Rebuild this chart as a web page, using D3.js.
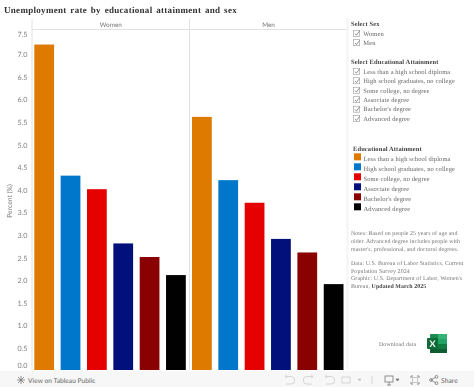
<!DOCTYPE html>
<html>
<head>
<meta charset="utf-8">
<script src="https://cdn.jsdelivr.net/npm/d3@7"></script>
<style>
  html, body { margin: 0; padding: 0; background: #fff; }
  svg { display: block; text-rendering: geometricPrecision; opacity: 0.999; }
  .serif { font-family: "Liberation Serif", serif; }
  .sans { font-family: Lato, "Open Sans", sans-serif; }
</style>
</head>
<body>
<div id="chart"></div>
<script>
const sexes = ["Women", "Men"];
const levels = [
    "Less than a high school diploma",
    "High school graduates, no college",
    "Some college, no degree",
    "Associate degree",
    "Bachelor's degree",
    "Advanced degree"
];
const colors = ["#df7a00", "#0077cc", "#e60000", "#00107a", "#8a0000", "#000000"];
const womenValues = [7.2, 4.3, 4.0, 2.8, 2.5, 2.1];
const menValues = [5.6, 4.2, 3.7, 2.9, 2.6, 1.9];
const yTicks = [0, 0.5, 1, 1.5, 2, 2.5, 3, 3.5, 4, 4.5, 5, 5.5, 6, 6.5, 7, 7.5];
const notes = [
    "Notes: Based on people 25 years of age and",
    "older. Advanced degree includes people with",
    "master's, professional, and doctoral degrees."
];
const sources = [
    "Data: U.S. Bureau of Labor Statistics, Current",
    "Population Survey 2024",
    "Graphic: U.S. Department of Labor, Women's"
];

const width = 474;
const height = 387;
const svg = d3.select("#chart").append("svg")
    .attr("width", width)
    .attr("height", height);

/* ---------------- TITLE ---------------- */

svg.append("text")
    .attr("class", "serif")
    .attr("x", 4)
    .attr("y", 13)
    .style("font-size", "9px")
    .style("font-weight", "bold")
    .style("letter-spacing", "0.3px")
    .style("word-spacing", "1.2px")
    .style("fill", "#333")
    .text("Unemployment rate by educational attainment and sex");

/* ---------------- SCALES ---------------- */

const y = d3.scaleLinear().domain([0, 7.65]).range([370, 24.2]);
const panel = d3.scaleBand().domain(sexes).range([32, 347.4]);
const x = d3.scaleBand().domain(levels).range([-0.8, panel.bandwidth() - 0.8])
    .paddingInner(0.25).paddingOuter(0.1175);

/* ---------------- FRAME AND AXIS ---------------- */

const lines = "#e2e2e2";
svg.append("line").attr("x1", 32).attr("x2", 32).attr("y1", 19).attr("y2", 370).attr("stroke", lines);
svg.append("line").attr("x1", 32).attr("x2", 347).attr("y1", 29.5).attr("y2", 29.5).attr("stroke", lines);
svg.append("line").attr("x1", 189.5).attr("x2", 189.5).attr("y1", 19).attr("y2", 370).attr("stroke", lines);

const yAxis = svg.append("g")
    .attr("transform", "translate(32,0)")
    .call(d3.axisLeft(y).tickValues(yTicks).tickSize(0).tickPadding(4.5).tickFormat(d3.format(".1f")));
yAxis.select(".domain").remove();
yAxis.selectAll("text")
    .style("font-size", "7.2px")
    .style("font-family", "Lato, sans-serif")
    .style("fill", "#808080")
    // Tableau pulls the first and last labels inside the pane
    .attr("dy", d => d === 0 ? "-0.39em" : d === 7.5 ? "0.7em" : "0.42em");

svg.append("text")
    .attr("class", "sans")
    .attr("transform", "translate(12,201) rotate(-90)")
    .attr("text-anchor", "middle")
    .style("font-size", "6.8px")
    .style("fill", "#777")
    .text("Percent (%)");

/* ---------------- BARS ---------------- */

const valuesBySex = { Women: womenValues, Men: menValues };

const facet = svg.selectAll(".facet")
    .data(sexes)
    .enter()
    .append("g")
    .attr("class", "facet")
    .attr("transform", d => `translate(${panel(d)},0)`);

facet.append("text")
    .attr("class", "sans")
    .attr("x", panel.bandwidth() / 2)
    .attr("y", 27)
    .attr("text-anchor", "middle")
    .style("font-size", "6.4px")
    .style("fill", "#777")
    .text(d => d);

facet.selectAll("rect")
    .data(d => levels.map((level, i) => ({ level, i, value: valuesBySex[d][i] })))
    .enter()
    .append("rect")
    .attr("x", d => x(d.level))
    .attr("y", d => y(d.value))
    .attr("width", x.bandwidth())
    .attr("height", d => y(0) - y(d.value))
    .attr("fill", d => colors[d.i]);

/* ---------------- RIGHT PANEL ---------------- */

svg.append("rect")
    .attr("x", 346.5).attr("y", 18).attr("width", 2).attr("height", 352)
    .attr("fill", "#f4f4f4");

function heading(label, xPos, yPos) {
    svg.append("text")
        .attr("class", "serif")
        .attr("x", xPos)
        .attr("y", yPos)
        .style("font-size", "6.5px")
        .style("font-weight", "bold")
        .style("letter-spacing", "0.1px")
        .style("fill", "#444")
        .text(label);
}

function checkList(items, top, step) {
    const row = svg.append("g").selectAll("g")
        .data(items)
        .enter()
        .append("g")
        .attr("transform", (d, i) => `translate(353.5,${top + i * step})`);

    row.append("rect")
        .attr("width", 6.2).attr("height", 6)
        .attr("fill", "#fff").attr("stroke", "#999").attr("stroke-width", 0.6);

    row.append("path")
        .attr("d", "M1.5 3.3L2.9 4.9L6 0.8")
        .attr("fill", "none").attr("stroke", "#666").attr("stroke-width", 0.7);

    row.append("text")
        .attr("class", "serif")
        .attr("x", 9.8)
        .attr("y", 5.3)
        .style("font-size", "6.5px")
        .style("letter-spacing", "0.1px")
        .style("fill", "#666")
        .text(d => d);
}

heading("Select Sex", 351, 26);
checkList(sexes, 30.3, 9.4);
heading("Select Educational Attainment", 351, 64);
checkList(levels, 68.3, 9.47);

heading("Educational Attainment", 353, 151);

const legendRow = svg.append("g").selectAll("g")
    .data(levels)
    .enter()
    .append("g")
    .attr("transform", (d, i) => `translate(354,${153.3 + i * 10})`);

legendRow.append("rect")
    .attr("width", 7).attr("height", 7)
    .attr("fill", (d, i) => colors[i]);

legendRow.append("text")
    .attr("class", "serif")
    .attr("x", 9.5)
    .attr("y", 7.6)
    .style("font-size", "6.5px")
    .style("letter-spacing", "0.1px")
    .style("fill", "#666")
    .text(d => d);

function textBlock(rows, ys) {
    svg.append("g").selectAll("text")
        .data(rows)
        .enter()
        .append("text")
        .attr("class", "serif")
        .attr("x", 351)
        .attr("y", (d, i) => ys[i])
        .style("font-size", "5.9px")
        .style("letter-spacing", "0.08px")
        .style("fill", "#777")
        .text(d => d);
}

textBlock(notes, [235, 243, 251]);
textBlock(sources, [265, 273, 280]);

const updated = svg.append("text")
    .attr("class", "serif")
    .attr("x", 351)
    .attr("y", 288)
    .style("font-size", "5.9px")
    .style("letter-spacing", "0.08px")
    .style("fill", "#777");
updated.append("tspan").text("Bureau, ");
updated.append("tspan").style("font-weight", "bold").style("fill", "#444").text("Updated March 2025");

svg.append("text")
    .attr("class", "serif")
    .attr("x", 379)
    .attr("y", 345.5)
    .style("font-size", "5.9px")
    .style("letter-spacing", "0.1px")
    .style("fill", "#777")
    .text("Download data");

/* ---------------- EXCEL ICON ---------------- */

const excel = svg.append("g").attr("transform", "translate(427,334)");
excel.append("rect").attr("x", 3).attr("width", 17).attr("height", 19).attr("rx", 1).attr("fill", "#1d8a50");
excel.append("rect").attr("x", 11).attr("width", 9).attr("height", 5).attr("fill", "#35b374");
excel.append("rect").attr("x", 11).attr("y", 5).attr("width", 9).attr("height", 5).attr("fill", "#21a366");
excel.append("rect").attr("x", 11).attr("y", 10).attr("width", 9).attr("height", 5).attr("fill", "#107c41");
excel.append("rect").attr("x", 3).attr("y", 15).attr("width", 17).attr("height", 4).attr("fill", "#0e5c30");
excel.append("rect").attr("x", 0).attr("y", 4).attr("width", 11).attr("height", 11).attr("rx", 1).attr("fill", "#0f6b38");
excel.append("text")
    .attr("class", "sans")
    .attr("x", 5.5).attr("y", 12.8)
    .attr("text-anchor", "middle")
    .style("font-size", "9px").style("font-weight", "bold").style("fill", "#fff")
    .text("X");

/* ---------------- TOOLBAR ---------------- */

svg.append("rect")
    .attr("x", 0).attr("y", 371).attr("width", width).attr("height", 16)
    .attr("fill", "#f7f7f7");

const tool = svg.append("g").attr("fill", "none").attr("stroke-width", 0.8);

// tableau cross mark
tool.append("path")
    .attr("d", "M21 376V384M17 380H25M18 377L24 383M24 377L18 383")
    .attr("stroke", "#777");

svg.append("text")
    .attr("class", "sans")
    .attr("x", 28).attr("y", 383)
    .style("font-size", "6.7px")
    .style("fill", "#666")
    .text("View on Tableau Public");

// disabled undo, redo, revert, refresh
tool.append("path").attr("d", "M285 376.5H291A3.5 3.5 0 0 1 291 384H286M285 376.5L287 374.7M285 376.5L287 378.3").attr("stroke", "#ccc");
tool.append("path").attr("d", "M313 376.5H307A3.5 3.5 0 0 0 307 384H312M313 376.5L311 374.7M313 376.5L311 378.3").attr("stroke", "#ccc");
tool.append("path").attr("d", "M325 376.5H331A3.5 3.5 0 0 1 331 384H326M325 376.5L327 374.7M325 376.5L327 378.3").attr("stroke", "#ccc");
tool.append("rect").attr("x", 342).attr("y", 377).attr("width", 8).attr("height", 6).attr("stroke", "#ccc");
tool.append("path").attr("d", "M358 379L359.5 381L361 379Z").attr("fill", "#ccc").attr("stroke", "#ccc");
tool.append("path").attr("d", "M372 376V384").attr("stroke", "#ccc");

// device preview, fullscreen, share
tool.append("rect").attr("x", 385).attr("y", 376).attr("width", 8).attr("height", 6).attr("stroke", "#777");
tool.append("path").attr("d", "M389 382V385M387 385H391").attr("stroke", "#777");
tool.append("path").attr("d", "M396 379L397.5 381L399 379Z").attr("fill", "#777").attr("stroke", "#777");
tool.append("path")
    .attr("d", "M411 378V376H413M417 376H419V378M419 382V384H417M413 384H411V382")
    .attr("stroke", "#777");
tool.append("rect").attr("x", 412.5).attr("y", 377.5).attr("width", 5).attr("height", 5).attr("stroke", "#bbb");
tool.append("path").attr("d", "M431 380L436 377M431 380L436 383").attr("stroke", "#777");
tool.append("circle").attr("cx", 431).attr("cy", 380).attr("r", 1.4).attr("stroke", "#777");
tool.append("circle").attr("cx", 436.5).attr("cy", 376.8).attr("r", 1.4).attr("stroke", "#777");
tool.append("circle").attr("cx", 436.5).attr("cy", 383.2).attr("r", 1.4).attr("stroke", "#777");

svg.append("text")
    .attr("class", "sans")
    .attr("x", 441).attr("y", 383)
    .style("font-size", "6.8px")
    .style("fill", "#666")
    .text("Share");
</script>
</body>
</html>
